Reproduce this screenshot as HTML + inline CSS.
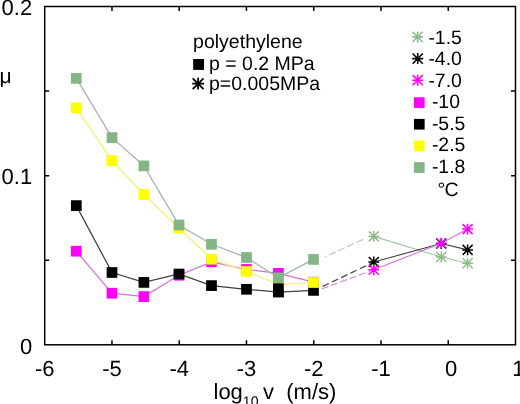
<!DOCTYPE html>
<html><head><meta charset="utf-8"><style>
html,body{margin:0;padding:0;background:#fff;}
svg{display:block;}
text{fill:#000;white-space:pre;text-rendering:geometricPrecision;}
</style></head><body>
<svg width="520" height="404" viewBox="0 0 520 404" font-family="&quot;Liberation Sans&quot;, Arial, sans-serif">
<rect width="520" height="404" fill="#fff"/>
<polyline points="324.80,256.80 364.00,239.00" stroke="#c6c6c6" stroke-width="1.2" fill="none" stroke-dasharray="7.5 2.6" stroke-dashoffset="5.7"/>
<polyline points="322.60,286.40 373.80,262.10" stroke="#4a4a4a" stroke-width="1.3" fill="none" stroke-dasharray="6.8 3.5"/>
<polyline points="321.50,289.00 373.80,269.70" stroke="#e08ae0" stroke-width="1.2" fill="none" stroke-dasharray="7 3"/>
<polyline points="76.30,251.20 112.00,293.20 143.90,296.60 179.00,275.20 211.50,261.80 246.50,269.50 278.40,273.40 313.50,282.20" stroke="#d670d6" stroke-width="1.25" fill="none"/>
<rect x="70.95" y="245.85" width="10.70" height="10.70" fill="#ff00ff"/>
<rect x="106.65" y="287.85" width="10.70" height="10.70" fill="#ff00ff"/>
<rect x="138.55" y="291.25" width="10.70" height="10.70" fill="#ff00ff"/>
<rect x="173.65" y="269.85" width="10.70" height="10.70" fill="#ff00ff"/>
<rect x="206.15" y="256.45" width="10.70" height="10.70" fill="#ff00ff"/>
<rect x="241.15" y="264.15" width="10.70" height="10.70" fill="#ff00ff"/>
<rect x="273.05" y="268.05" width="10.70" height="10.70" fill="#ff00ff"/>
<rect x="308.15" y="276.85" width="10.70" height="10.70" fill="#ff00ff"/>
<polyline points="76.30,205.60 112.00,272.50 143.90,282.40 179.00,274.00 211.50,285.60 246.50,289.30 278.40,292.00 313.50,290.40" stroke="#404040" stroke-width="1.25" fill="none"/>
<rect x="70.95" y="200.25" width="10.70" height="10.70" fill="#000000"/>
<rect x="106.65" y="267.15" width="10.70" height="10.70" fill="#000000"/>
<rect x="138.55" y="277.05" width="10.70" height="10.70" fill="#000000"/>
<rect x="173.65" y="268.65" width="10.70" height="10.70" fill="#000000"/>
<rect x="206.15" y="280.25" width="10.70" height="10.70" fill="#000000"/>
<rect x="241.15" y="283.95" width="10.70" height="10.70" fill="#000000"/>
<rect x="273.05" y="286.65" width="10.70" height="10.70" fill="#000000"/>
<rect x="308.15" y="285.05" width="10.70" height="10.70" fill="#000000"/>
<polyline points="76.30,107.90 112.00,160.60 143.90,194.50 179.00,228.20 211.50,259.20 246.50,271.50 278.40,284.50 313.50,282.50" stroke="#f0f070" stroke-width="1.25" fill="none"/>
<rect x="70.95" y="102.55" width="10.70" height="10.70" fill="#ffff00"/>
<rect x="106.65" y="155.25" width="10.70" height="10.70" fill="#ffff00"/>
<rect x="138.55" y="189.15" width="10.70" height="10.70" fill="#ffff00"/>
<rect x="173.65" y="222.85" width="10.70" height="10.70" fill="#ffff00"/>
<rect x="206.15" y="253.85" width="10.70" height="10.70" fill="#ffff00"/>
<rect x="241.15" y="266.15" width="10.70" height="10.70" fill="#ffff00"/>
<rect x="273.05" y="279.15" width="10.70" height="10.70" fill="#ffff00"/>
<rect x="308.15" y="277.15" width="10.70" height="10.70" fill="#ffff00"/>
<polyline points="76.30,78.35 112.00,137.60 143.90,165.90 179.00,225.00 211.50,244.30 246.50,257.50 278.40,277.80 313.50,259.40" stroke="#a3b1ab" stroke-width="1.25" fill="none"/>
<rect x="70.95" y="73.00" width="10.70" height="10.70" fill="#85b585"/>
<rect x="106.65" y="132.25" width="10.70" height="10.70" fill="#85b585"/>
<rect x="138.55" y="160.55" width="10.70" height="10.70" fill="#85b585"/>
<rect x="173.65" y="219.65" width="10.70" height="10.70" fill="#85b585"/>
<rect x="206.15" y="238.95" width="10.70" height="10.70" fill="#85b585"/>
<rect x="241.15" y="252.15" width="10.70" height="10.70" fill="#85b585"/>
<rect x="273.05" y="272.45" width="10.70" height="10.70" fill="#85b585"/>
<rect x="308.15" y="254.05" width="10.70" height="10.70" fill="#85b585"/>
<rect x="273.05" y="283.3" width="10.70" height="13.8" fill="#000"/>
<polyline points="373.80,236.40 441.30,257.00 467.60,263.30" stroke="#a6c4aa" stroke-width="1.1" fill="none"/>
<polyline points="373.80,262.00 441.30,243.50 467.60,249.90" stroke="#404040" stroke-width="1.1" fill="none"/>
<polyline points="373.80,269.80 441.30,243.20 467.60,229.10" stroke="#d670d6" stroke-width="1.1" fill="none"/>
<path d="M368.40 236.40H379.20M373.80 231.00V241.80M368.80 231.40L378.80 241.40M368.80 241.40L378.80 231.40" stroke="#8cbc8c" stroke-width="1.5" fill="none"/>
<path d="M435.90 257.00H446.70M441.30 251.60V262.40M436.30 252.00L446.30 262.00M436.30 262.00L446.30 252.00" stroke="#8cbc8c" stroke-width="1.5" fill="none"/>
<path d="M462.20 263.30H473.00M467.60 257.90V268.70M462.60 258.30L472.60 268.30M462.60 268.30L472.60 258.30" stroke="#8cbc8c" stroke-width="1.5" fill="none"/>
<path d="M368.40 262.00H379.20M373.80 256.60V267.40M368.80 257.00L378.80 267.00M368.80 267.00L378.80 257.00" stroke="#000000" stroke-width="1.5" fill="none"/>
<path d="M435.90 243.50H446.70M441.30 238.10V248.90M436.30 238.50L446.30 248.50M436.30 248.50L446.30 238.50" stroke="#000000" stroke-width="1.5" fill="none"/>
<path d="M462.20 249.90H473.00M467.60 244.50V255.30M462.60 244.90L472.60 254.90M462.60 254.90L472.60 244.90" stroke="#000000" stroke-width="1.5" fill="none"/>
<path d="M368.40 269.80H379.20M373.80 264.40V275.20M368.80 264.80L378.80 274.80M368.80 274.80L378.80 264.80" stroke="#ff00ff" stroke-width="1.5" fill="none"/>
<path d="M435.90 243.20H446.70M441.30 237.80V248.60M436.30 238.20L446.30 248.20M436.30 248.20L446.30 238.20" stroke="#ff00ff" stroke-width="1.5" fill="none"/>
<path d="M462.20 229.10H473.00M467.60 223.70V234.50M462.60 224.10L472.60 234.10M462.60 234.10L472.60 224.10" stroke="#ff00ff" stroke-width="1.5" fill="none"/>
<path d="M111.96 344.80V340.30M111.96 6.50V11.00M179.21 344.80V340.30M179.21 6.50V11.00M246.47 344.80V340.30M246.47 6.50V11.00M313.73 344.80V340.30M313.73 6.50V11.00M380.99 344.80V340.30M380.99 6.50V11.00M448.24 344.80V340.30M448.24 6.50V11.00M44.70 260.23H49.20M515.50 260.23H511.00M44.70 175.65H49.20M515.50 175.65H511.00M44.70 91.07H49.20M515.50 91.07H511.00" stroke="#000" stroke-width="1.5" fill="none"/>
<rect x="44.7" y="6.5" width="470.80" height="338.30" stroke="#000" stroke-width="1.5" fill="none"/>
<path d="M412.10 36.90H423.10M417.60 31.40V42.40M412.50 31.80L422.70 42.00M412.50 42.00L422.70 31.80" stroke="#8cbc8c" stroke-width="1.6" fill="none"/>
<path d="M412.20 58.60H423.20M417.70 53.10V64.10M412.60 53.50L422.80 63.70M412.60 63.70L422.80 53.50" stroke="#000000" stroke-width="1.6" fill="none"/>
<path d="M412.20 80.20H423.20M417.70 74.70V85.70M412.60 75.10L422.80 85.30M412.60 85.30L422.80 75.10" stroke="#ff00ff" stroke-width="1.6" fill="none"/>
<rect x="413.95" y="97.25" width="10.70" height="10.70" fill="#ff00ff"/>
<rect x="413.95" y="118.90" width="10.70" height="10.70" fill="#000000"/>
<rect x="413.95" y="140.55" width="10.70" height="10.70" fill="#ffff00"/>
<rect x="413.95" y="162.20" width="10.70" height="10.70" fill="#85b585"/>
<rect x="193.15" y="59.00" width="10.90" height="10.90" fill="#000000"/>
<path d="M192.20 83.70H204.00M198.10 77.80V89.60M192.70 78.30L203.50 89.10M192.70 89.10L203.50 78.30" stroke="#000000" stroke-width="1.8" fill="none"/>
<text x="32.2" y="14.9" font-size="22" text-anchor="end" >0.2</text>
<text x="32.2" y="184.0" font-size="22" text-anchor="end" >0.1</text>
<text x="32.2" y="353.9" font-size="22" text-anchor="end" >0</text>
<text x="44.70" y="376.0" font-size="22" text-anchor="middle" >-6</text>
<text x="111.96" y="376.0" font-size="22" text-anchor="middle" >-5</text>
<text x="179.21" y="376.0" font-size="22" text-anchor="middle" >-4</text>
<text x="246.47" y="376.0" font-size="22" text-anchor="middle" >-3</text>
<text x="313.73" y="376.0" font-size="22" text-anchor="middle" >-2</text>
<text x="380.99" y="376.0" font-size="22" text-anchor="middle" >-1</text>
<text x="451.04" y="376.0" font-size="22" text-anchor="middle" >0</text>
<text x="518.30" y="376.0" font-size="22" text-anchor="middle" >1</text>
<text x="-0.6" y="83" font-size="21">μ</text>
<text x="213.5" y="398.7" font-size="22">log<tspan font-size="14" dy="6.8">10</tspan><tspan dy="-6.8" dx="-1.5"> v  (m/s)</tspan></text>
<text x="193.1" y="47.6" font-size="19.5" text-anchor="start" >polyethylene</text>
<text x="209.0" y="69.5" font-size="19.5" text-anchor="start" >p = 0.2 MPa</text>
<text x="209.0" y="90.2" font-size="19.5" text-anchor="start" >p=0.005MPa</text>
<text x="428.4" y="43.5" font-size="19.4" text-anchor="start" >-1.5</text>
<text x="428.4" y="65.0" font-size="19.4" text-anchor="start" >-4.0</text>
<text x="428.4" y="86.5" font-size="19.4" text-anchor="start" >-7.0</text>
<text x="431.9" y="108.0" font-size="19.4" text-anchor="start" >-10</text>
<text x="431.9" y="129.5" font-size="19.4" text-anchor="start" >-5.5</text>
<text x="431.9" y="151.0" font-size="19.4" text-anchor="start" >-2.5</text>
<text x="431.9" y="172.5" font-size="19.4" text-anchor="start" >-1.8</text>
<text x="437.4" y="196.2" font-size="19.5"><tspan dy="-0.5">°</tspan><tspan dx="-0.6" dy="0.5">C</tspan></text>
</svg>
</body></html>
